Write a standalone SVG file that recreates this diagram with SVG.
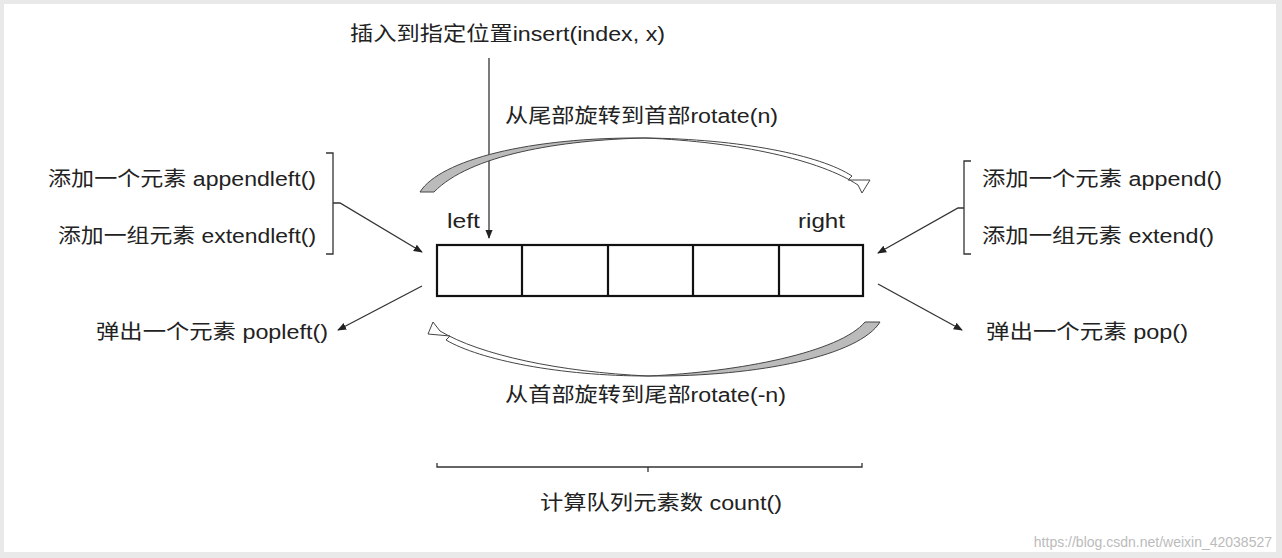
<svg xmlns="http://www.w3.org/2000/svg" width="1282" height="558" viewBox="0 0 1282 558">
<style>
text{font-family:"Liberation Sans","Noto Sans CJK SC",sans-serif;font-size:20px;fill:#222}
.l{stroke:#333;stroke-width:1.3;fill:none}
.b{stroke:#111;stroke-width:2.2;fill:none}
</style>
<defs>
<marker id="ah" viewBox="0 0 10 10" refX="9" refY="5" markerWidth="7" markerHeight="7" orient="auto"><path d="M0,1 L10,5 L0,9 z" fill="#222"/></marker>
</defs>
<rect width="1282" height="558" fill="#e9e9e9"/>
<rect x="4" y="4" width="1272" height="548" fill="#fff"/>
<g id="deque">
<rect class="b" x="437" y="245" width="426" height="51"/>
<path class="b" d="M522,245V296M608,245V296M693,245V296M779,245V296"/>
<text x="447" y="228" textLength="33" lengthAdjust="spacingAndGlyphs">left</text>
<text x="798" y="228" textLength="47" lengthAdjust="spacingAndGlyphs">right</text>
</g>
<g id="insert"><text x="350" y="41" textLength="315" lengthAdjust="spacingAndGlyphs">插入到指定位置insert(index, x)</text></g>
<g id="rotate-n"><text x="505" y="123" textLength="273" lengthAdjust="spacingAndGlyphs">从尾部旋转到首部rotate(n)</text></g>
<g id="rotate-neg"><text x="505" y="402" textLength="281" lengthAdjust="spacingAndGlyphs">从首部旋转到尾部rotate(-n)</text></g>
<g id="left-add"><text x="48" y="186" textLength="268" lengthAdjust="spacingAndGlyphs">添加一个元素 appendleft()</text><text x="58" y="243" textLength="258" lengthAdjust="spacingAndGlyphs">添加一组元素 extendleft()</text></g>
<g id="right-add"><text x="982" y="186" textLength="240" lengthAdjust="spacingAndGlyphs">添加一个元素 append()</text><text x="982" y="243" textLength="232" lengthAdjust="spacingAndGlyphs">添加一组元素 extend()</text></g>
<g id="popleft"><text x="96" y="339" textLength="232" lengthAdjust="spacingAndGlyphs">弹出一个元素 popleft()</text></g>
<g id="pop"><text x="986" y="339" textLength="202" lengthAdjust="spacingAndGlyphs">弹出一个元素 pop()</text></g>
<g id="count"><text x="540" y="510" textLength="242" lengthAdjust="spacingAndGlyphs">计算队列元素数 count()</text></g>
<text x="1272" y="547" text-anchor="end" style="font-size:14px;fill:#bbb">https://blog.csdn.net/weixin_42038527</text>
<g id="connectors">
<path class="l" d="M489,58V238" marker-end="url(#ah)"/>
<path class="l" d="M326,153H333V254H326M333,203H340L422,252" marker-end="url(#ah)"/>
<path class="l" d="M422,286L338,330" marker-end="url(#ah)"/>
<path class="l" d="M971,161H964V254H971M964,208H958L878,253" marker-end="url(#ah)"/>
<path class="l" d="M878,284L962,330" marker-end="url(#ah)"/>
<path class="l" d="M437,463V467H862V463M648,467V472"/>
<path d="M420,192C440,160 530,137 645,138C560,140 470,155 434,192Z" fill="#bbb" stroke="#444" stroke-width="1"/>
<path d="M645,138C740,139 820,155 852,176L848,180L870,180L862,193L858,185C820,160 740,142 645,138Z" fill="#fff" stroke="#444" stroke-width="1"/>
<path d="M880,322C860,355 760,377 648,376C740,372 840,352 865,322Z" fill="#bbb" stroke="#444" stroke-width="1"/>
<path d="M648,376C560,376 480,360 446,340L450,336L428,334L433,322L440,331C480,355 560,372 648,376Z" fill="#fff" stroke="#444" stroke-width="1"/>
</g>
</svg>
